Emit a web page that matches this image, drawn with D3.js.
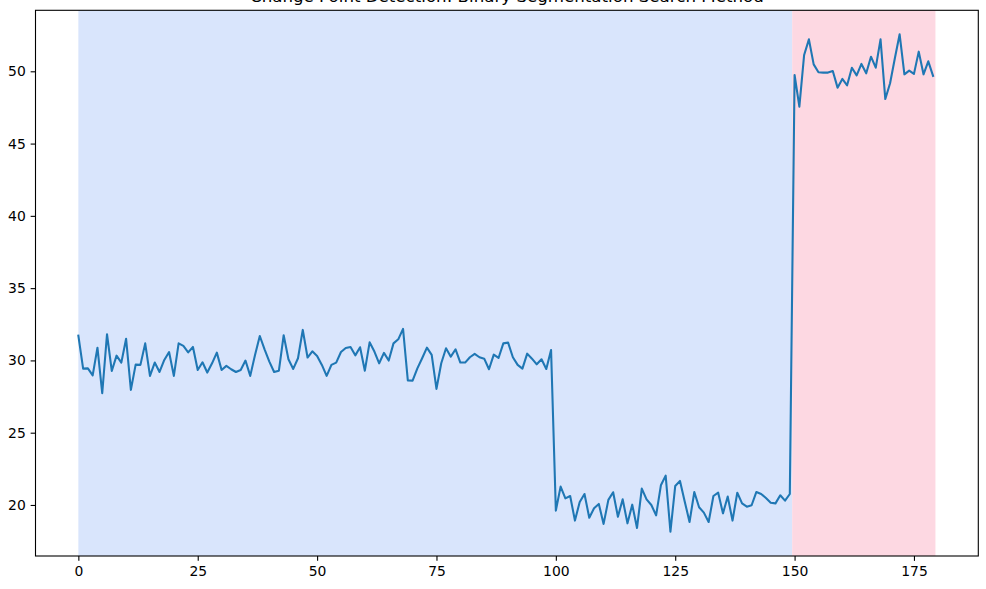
<!DOCTYPE html>
<html>
<head>
<meta charset="utf-8">
<script src="https://cdn.jsdelivr.net/npm/d3@7"></script>
<style>
  html, body { margin: 0; padding: 0; background: #ffffff; }
  svg { display: block; }
  text { font-family: "DejaVu Sans", sans-serif; fill: #000; }
</style>
</head>
<body>
<svg id="chart" width="986" height="589"></svg>
<script>
const title = "Change Point Detection: Binary Segmentation Search Method";

const values = [
  31.71, 29.43, 29.45, 28.97, 30.88, 27.73, 31.81, 29.27, 30.33, 29.85,
  31.50, 27.96, 29.71, 29.69, 31.18, 28.93, 29.85, 29.20, 30.03, 30.58,
  28.93, 31.18, 31.00, 30.56, 30.93, 29.34, 29.87, 29.16, 29.80, 30.54,
  29.34, 29.62, 29.39, 29.20, 29.34, 29.99, 28.93, 30.38, 31.69, 30.77,
  29.92, 29.20, 29.29, 31.74, 30.08, 29.41, 30.15, 32.11, 30.20, 30.63,
  30.31, 29.69, 28.93, 29.69, 29.85, 30.58, 30.86, 30.93, 30.35, 30.91,
  29.29, 31.25, 30.61, 29.80, 30.52, 29.99, 31.18, 31.46, 32.18, 28.62,
  28.60, 29.45, 30.15, 30.88, 30.38, 28.03, 29.80, 30.84, 30.26, 30.77,
  29.85, 29.85, 30.22, 30.45, 30.22, 30.12, 29.39, 30.40, 30.17, 31.18,
  31.23, 30.22, 29.69, 29.43, 30.47, 30.12, 29.73, 30.08, 29.41, 30.72,
  19.61, 21.27, 20.46, 20.62, 18.92, 20.21, 20.76, 19.12, 19.77, 20.07,
  18.69, 20.35, 20.88, 19.19, 20.39, 18.73, 20.02, 18.41, 21.13, 20.39,
  20.00, 19.28, 21.36, 22.03, 18.15, 21.31, 21.66, 20.23, 18.82, 20.90,
  19.84, 19.47, 18.82, 20.62, 20.85, 19.42, 20.58, 18.92, 20.85, 20.11,
  19.88, 19.98, 20.90, 20.76, 20.48, 20.16, 20.11, 20.67, 20.30, 20.76,
  49.75, 47.55, 51.13, 52.21, 50.48, 49.93, 49.91, 49.91, 50.02, 48.87,
  49.47, 49.03, 50.25, 49.72, 50.51, 49.86, 51.01, 50.25, 52.21, 48.08,
  49.17, 50.90, 52.56, 49.79, 50.05, 49.82, 51.36, 49.79, 50.69, 49.68
];

const segmentStarts = [0, 149.5];
const segmentEnds = [149.5, 179.5];
const segmentColors = ["#d9e5fc", "#fdd8e2"];

const xTicks = [0, 25, 50, 75, 100, 125, 150, 175];
const yTicks = [20, 25, 30, 35, 40, 45, 50];

const xDomain = [-8.975, 188.475];
const yDomain = [16.47, 54.22];

const svg = d3.select("#chart");
const pLeft = 35.5, pTop = 10.3, pRight = 978.3, pBottom = 556;

const x = d3.scaleLinear().domain(xDomain).range([pLeft, pRight]);
const y = d3.scaleLinear().domain(yDomain).range([pBottom, pTop]);

// shaded segments
svg.append("g").selectAll("rect")
  .data(segmentStarts.map((s, i) => ({ s, e: segmentEnds[i], c: segmentColors[i] })))
  .join("rect")
  .attr("x", d => x(d.s))
  .attr("width", d => x(d.e) - x(d.s))
  .attr("y", pTop)
  .attr("height", pBottom - pTop)
  .attr("fill", d => d.c);

// line
const line = d3.line()
  .x((d, i) => x(i))
  .y(d => y(d));

svg.append("path")
  .datum(values)
  .attr("d", line)
  .attr("fill", "none")
  .attr("stroke", "#1f77b4")
  .attr("stroke-width", 2.08)
  .attr("stroke-linejoin", "round")
  .attr("stroke-linecap", "square");

// axes
const xAxis = d3.axisBottom(x).tickValues(xTicks).tickSize(4.86).tickPadding(4.9).tickFormat(d3.format("d"));
const yAxis = d3.axisLeft(y).tickValues(yTicks).tickSize(4.86).tickPadding(4.9).tickFormat(d3.format("d"));

const gx = svg.append("g").attr("transform", `translate(0,${pBottom})`).call(xAxis);
const gy = svg.append("g").attr("transform", `translate(${pLeft},0)`).call(yAxis);

[gx, gy].forEach(g => {
  g.select(".domain").remove();
  g.selectAll(".tick line").attr("stroke", "#000").attr("stroke-width", 1.1);
  g.selectAll(".tick text")
    .attr("font-family", "DejaVu Sans, sans-serif")
    .attr("font-size", 13.9)
    .attr("fill", "#000");
});

// frame
svg.append("rect")
  .attr("x", pLeft).attr("y", pTop)
  .attr("width", pRight - pLeft).attr("height", pBottom - pTop)
  .attr("fill", "none")
  .attr("stroke", "#000")
  .attr("stroke-width", 1.1);

// title
svg.append("text")
  .attr("x", (pLeft + pRight) / 2)
  .attr("y", 2)
  .attr("text-anchor", "middle")
  .attr("font-size", 16.67)
  .text(title);
</script>
</body>
</html>
